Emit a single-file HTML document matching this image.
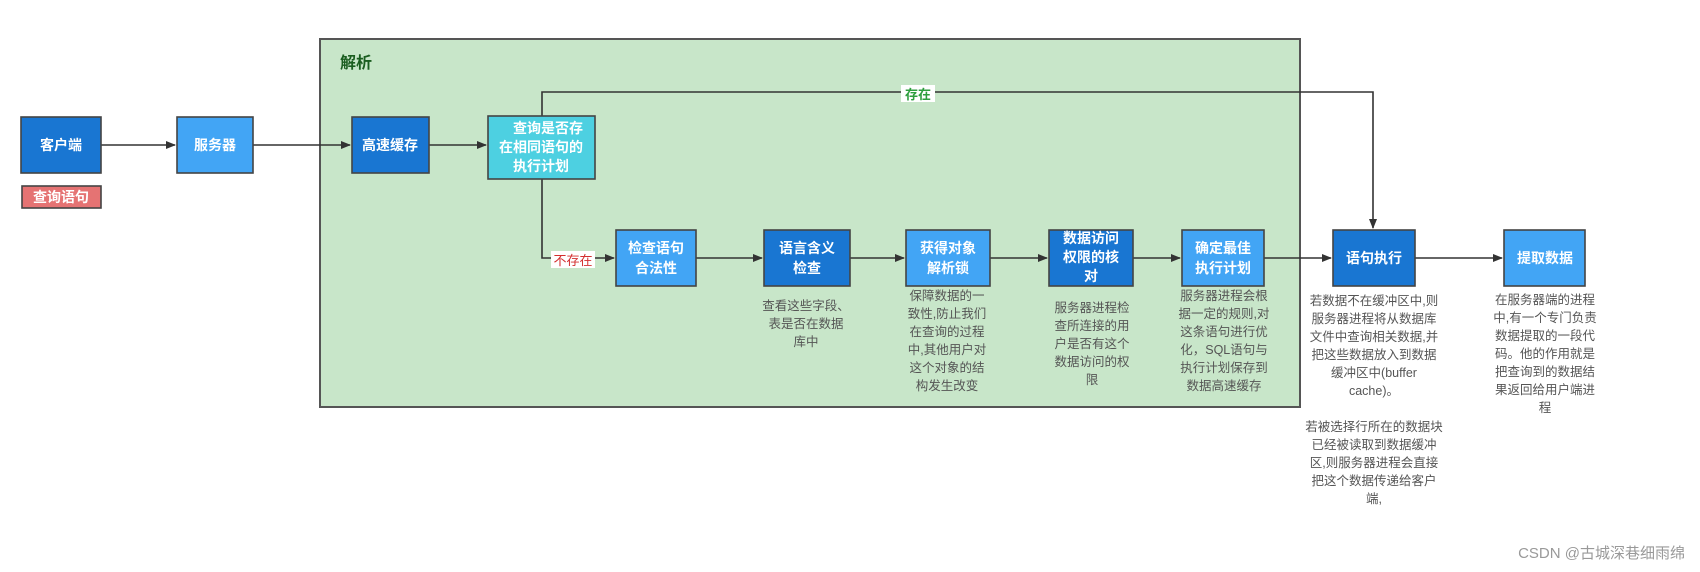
<!DOCTYPE html>
<html><head><meta charset="utf-8"><style>
html,body{margin:0;padding:0;background:#fff;}
svg{display:block;font-family:"Liberation Sans","Noto Sans CJK SC",sans-serif;}
.bt{fill:#fff;font-weight:bold;font-size:14px;text-anchor:middle;}
.d{fill:#555;font-size:12.5px;text-anchor:middle;}
</style></head><body>
<svg width="1700" height="572" viewBox="0 0 1700 572">
<defs><marker id="a" markerWidth="10" markerHeight="10" refX="9" refY="5" orient="auto" markerUnits="userSpaceOnUse"><path d="M0,1 L10,5 L0,9 z" fill="#333"/></marker></defs>
<rect x="320" y="39" width="980" height="368" fill="#C8E6C9" stroke="#555" stroke-width="2"/>
<text x="340" y="68" fill="#1B5E20" font-size="16" font-weight="bold">解析</text>
<g stroke="#333" stroke-width="1.6" fill="none">
<line x1="101" y1="145" x2="175" y2="145" marker-end="url(#a)"/>
<line x1="253" y1="145" x2="350" y2="145" marker-end="url(#a)"/>
<line x1="429" y1="145" x2="486" y2="145" marker-end="url(#a)"/>
<polyline points="542,116 542,92 1373,92 1373,228" marker-end="url(#a)"/>
<polyline points="542,179 542,258 614,258" marker-end="url(#a)"/>
<line x1="696" y1="258" x2="762" y2="258" marker-end="url(#a)"/>
<line x1="850" y1="258" x2="904" y2="258" marker-end="url(#a)"/>
<line x1="990" y1="258" x2="1047" y2="258" marker-end="url(#a)"/>
<line x1="1133" y1="258" x2="1180" y2="258" marker-end="url(#a)"/>
<line x1="1264" y1="258" x2="1331" y2="258" marker-end="url(#a)"/>
<line x1="1415" y1="258" x2="1502" y2="258" marker-end="url(#a)"/>
</g>
<rect x="901" y="85" width="34" height="17" fill="#fff"/>
<text x="918" y="99" fill="#2E9E3E" font-size="13" font-weight="bold" text-anchor="middle">存在</text>
<rect x="551" y="251" width="44" height="17" fill="#fff"/>
<text x="573" y="265" fill="#D32F2F" font-size="13" text-anchor="middle">不存在</text>
<g stroke="#444" stroke-width="1.6">
<rect x="21" y="117" width="80" height="56" fill="#1976D2"/>
<rect x="22" y="186" width="79" height="22" fill="#E57373"/>
<rect x="177" y="117" width="76" height="56" fill="#42A5F5"/>
<rect x="352" y="117" width="77" height="56" fill="#1976D2"/>
<rect x="488" y="116" width="107" height="63" fill="#4DD0E1"/>
<rect x="616" y="230" width="80" height="56" fill="#42A5F5"/>
<rect x="764" y="230" width="86" height="56" fill="#1976D2"/>
<rect x="906" y="230" width="84" height="56" fill="#42A5F5"/>
<rect x="1049" y="230" width="84" height="56" fill="#1976D2"/>
<rect x="1182" y="230" width="82" height="56" fill="#42A5F5"/>
<rect x="1333" y="230" width="82" height="56" fill="#1976D2"/>
<rect x="1504" y="230" width="81" height="56" fill="#42A5F5"/>
</g>
<text class="bt" x="61" y="150">客户端</text>
<text class="bt" x="61" y="202">查询语句</text>
<text class="bt" x="215" y="150">服务器</text>
<text class="bt" x="390" y="150">高速缓存</text>
<text class="bt" x="548" y="133">查询是否存</text>
<text class="bt" x="541" y="152">在相同语句的</text>
<text class="bt" x="541" y="171">执行计划</text>
<text class="bt" x="656" y="253">检查语句</text><text class="bt" x="656" y="273">合法性</text>
<text class="bt" x="807" y="253">语言含义</text><text class="bt" x="807" y="273">检查</text>
<text class="bt" x="948" y="253">获得对象</text><text class="bt" x="948" y="273">解析锁</text>
<text class="bt" x="1091" y="243">数据访问</text><text class="bt" x="1091" y="262">权限的核</text><text class="bt" x="1091" y="281">对</text>
<text class="bt" x="1223" y="253">确定最佳</text><text class="bt" x="1223" y="273">执行计划</text>
<text class="bt" x="1374" y="263">语句执行</text>
<text class="bt" x="1545" y="263">提取数据</text>
<text class="d" x="806" y="310">查看这些字段、<tspan x="806" dy="18">表是否在数据</tspan><tspan x="806" dy="18">库中</tspan></text>
<text class="d" x="947" y="300">保障数据的一<tspan x="947" dy="18">致性,防止我们</tspan><tspan x="947" dy="18">在查询的过程</tspan><tspan x="947" dy="18">中,其他用户对</tspan><tspan x="947" dy="18">这个对象的结</tspan><tspan x="947" dy="18">构发生改变</tspan></text>
<text class="d" x="1092" y="312">服务器进程检<tspan x="1092" dy="18">查所连接的用</tspan><tspan x="1092" dy="18">户是否有这个</tspan><tspan x="1092" dy="18">数据访问的权</tspan><tspan x="1092" dy="18">限</tspan></text>
<text class="d" x="1224" y="300">服务器进程会根<tspan x="1224" dy="18">据一定的规则,对</tspan><tspan x="1224" dy="18">这条语句进行优</tspan><tspan x="1224" dy="18">化，SQL语句与</tspan><tspan x="1224" dy="18">执行计划保存到</tspan><tspan x="1224" dy="18">数据高速缓存</tspan></text>
<text class="d" x="1374" y="305">若数据不在缓冲区中,则<tspan x="1374" dy="18">服务器进程将从数据库</tspan><tspan x="1374" dy="18">文件中查询相关数据,并</tspan><tspan x="1374" dy="18">把这些数据放入到数据</tspan><tspan x="1374" dy="18">缓冲区中(buffer</tspan><tspan x="1374" dy="18">cache)。</tspan><tspan x="1374" dy="36">若被选择行所在的数据块</tspan><tspan x="1374" dy="18">已经被读取到数据缓冲</tspan><tspan x="1374" dy="18">区,则服务器进程会直接</tspan><tspan x="1374" dy="18">把这个数据传递给客户</tspan><tspan x="1374" dy="18">端,</tspan></text>
<text class="d" x="1545" y="304">在服务器端的进程<tspan x="1545" dy="18">中,有一个专门负责</tspan><tspan x="1545" dy="18">数据提取的一段代</tspan><tspan x="1545" dy="18">码。他的作用就是</tspan><tspan x="1545" dy="18">把查询到的数据结</tspan><tspan x="1545" dy="18">果返回给用户端进</tspan><tspan x="1545" dy="18">程</tspan></text>
<text x="1685" y="558" fill="#999" font-size="15" text-anchor="end">CSDN @古城深巷细雨绵</text>
</svg>
</body></html>
